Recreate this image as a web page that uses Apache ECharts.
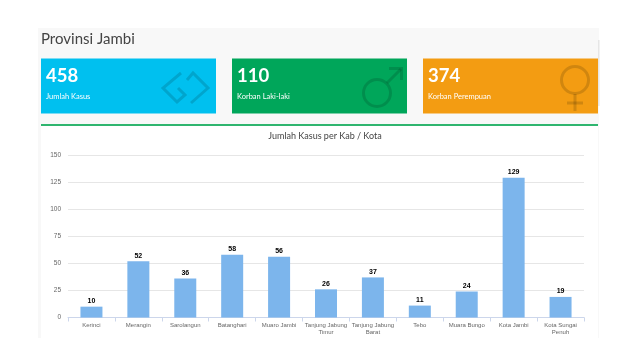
<!DOCTYPE html>
<html>
<head>
<meta charset="utf-8">
<title>Provinsi Jambi</title>
<script src="https://cdn.jsdelivr.net/npm/echarts@6/dist/echarts.min.js"></script>
<style>
  html, body { margin: 0; padding: 0; background: #fff; }
  #chart { width: 638px; height: 359px; }
</style>
</head>
<body>
<div id="chart"></div>
<script>
// data
const categories = ['Kerinci', 'Merangin', 'Sarolangun', 'Batanghari', 'Muaro Jambi', 'Tanjung Jabung\nTimur',
  'Tanjung Jabung\nBarat', 'Tebo', 'Muara Bungo', 'Kota Jambi', 'Kota Sungai\nPenuh']
const kasus = [10, 52, 36, 58, 56, 26, 37, 11, 24, 129, 19]
const cardValues = ['458', '110', '374']
const cardLabels = ['Jumlah Kasus', 'Korban Laki-laki', 'Korban Perempuan']
const cardColors = ['#00c0ef', '#00a65a', '#f39c12']
const cardLeft = [41, 232, 423]

const uiFont = 'Lato, "Open Sans", sans-serif'
const iconStroke = 'rgba(0,0,0,0.14)'

function icon (type, shape, lineWidth) {
  return { type: type, shape: shape, silent: true, style: { fill: 'none', stroke: iconStroke, lineWidth: lineWidth } }
}

let graphics = [
  { type: 'rect', shape: { x: 38, y: 28, width: 561, height: 310 }, style: { fill: '#f8f8f8' } },
  { type: 'rect', shape: { x: 598, y: 40, width: 1.5, height: 66 }, style: { fill: '#e6e6e6' } },
  { type: 'rect', shape: { x: 41, y: 126, width: 557, height: 212 }, style: { fill: '#fff' } },
  { type: 'rect', shape: { x: 41, y: 124, width: 557, height: 2 }, style: { fill: '#2fb56f' } },
  { type: 'text', x: 41, y: 39.5, style: { text: 'Provinsi Jambi', font: '15px ' + uiFont, fill: '#444', verticalAlign: 'middle' } }
]

cardValues.forEach(function (val, i) {
  graphics.push({ type: 'rect', shape: { x: cardLeft[i], y: 58.5, width: 175, height: 55 }, style: { fill: cardColors[i] } })
  graphics.push({ type: 'text', x: cardLeft[i] + 5, y: 76, style: { text: val, font: 'bold 18.5px ' + uiFont, fill: '#fff', verticalAlign: 'middle' } })
  graphics.push({ type: 'text', x: cardLeft[i] + 5, y: 97, style: { text: cardLabels[i], font: '7.5px ' + uiFont, fill: '#fff', verticalAlign: 'middle' } })
})

// card icons
graphics.push(icon('polyline', { points: [[181, 73], [163, 88], [177, 102], [185, 95], [178, 88]] }, 3))
graphics.push(icon('polyline', { points: [[187, 80], [193, 73], [208, 88], [191, 103]] }, 3))
graphics.push(icon('circle', { cx: 377, cy: 93, r: 13.5 }, 3))
graphics.push(icon('polyline', { points: [[387, 83], [401, 69]] }, 3))
graphics.push(icon('polyline', { points: [[389, 68.5], [401.5, 68.5], [401.5, 80]] }, 3))
graphics.push(icon('circle', { cx: 575, cy: 80, r: 13.5 }, 3))
graphics.push(icon('polyline', { points: [[575, 94], [575, 111]] }, 3))
graphics.push(icon('polyline', { points: [[567, 103], [583, 103]] }, 3))

let option = {
  animation: false,
  title: {
    text: 'Jumlah Kasus per Kab / Kota',
    left: 320,
    top: 127,
    textAlign: 'center',
    textStyle: { fontFamily: 'Lato', fontSize: 9, fontWeight: 400, color: '#444' }
  },
  grid: { left: 68, right: 54, top: 155, bottom: 41.5 },
  xAxis: {
    type: 'category',
    data: categories,
    axisLine: { lineStyle: { color: '#ccd6eb' } },
    axisTick: { show: true, length: 4, alignWithLabel: false, lineStyle: { color: '#ccd6eb' } },
    axisLabel: { interval: 0, fontFamily: 'Liberation Sans', fontSize: 6, color: '#666', margin: 4, lineHeight: 7.5 }
  },
  yAxis: {
    type: 'value',
    min: 0,
    max: 150,
    interval: 25,
    axisLine: { show: false },
    axisTick: { show: false },
    splitLine: { lineStyle: { color: '#e6e6e6', width: 1 } },
    axisLabel: { fontFamily: 'Liberation Sans', fontSize: 6.5, color: '#666', margin: 7 }
  },
  series: [{
    name: 'Jumlah Kasus',
    type: 'bar',
    data: kasus,
    barWidth: 22,
    itemStyle: { color: '#7cb5ec' },
    label: {
      show: true,
      position: 'top',
      distance: 2,
      fontFamily: 'Liberation Sans',
      fontSize: 7,
      fontWeight: 'bold',
      color: '#000'
    }
  }],
  graphic: { elements: graphics.map(function (g) { return Object.assign({ z: -10 }, g) }) }
}

let dom = echarts.init(document.getElementById('chart'), null, { renderer: 'canvas' })
dom.setOption(option)
</script>
</body>
</html>
